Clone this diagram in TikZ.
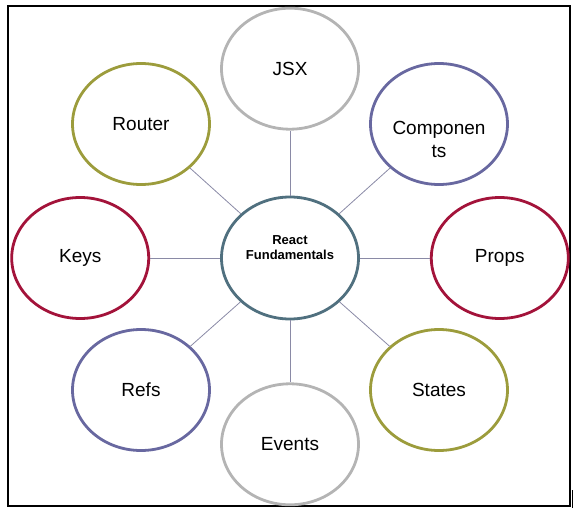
\documentclass[tikz,border=0pt]{standalone}
\usepackage{fontspec}
\setmainfont{Liberation Sans}
\usetikzlibrary{shapes.geometric, positioning}
\definecolor{mgray}{HTML}{B4B4B4}
\definecolor{mpurp}{HTML}{6868A0}
\definecolor{molive}{HTML}{9C9C3C}
\definecolor{mred}{HTML}{A3133A}
\definecolor{mslate}{HTML}{50707F}
\definecolor{mline}{HTML}{8A8AA6}
\newcommand{\shifttext}[2]{\raisebox{#1}[\height][\depth]{\begin{tabular}{@{}c@{}}#2\end{tabular}}}
\tikzstyle{topic} = [ellipse, draw, line width=2.8pt, minimum width=137pt, minimum height=121pt, inner sep=0pt, align=center, font=\fontsize{19}{23}\selectfont]
\tikzstyle{hub} = [ellipse, draw=mslate, line width=2.8pt, minimum width=137pt, minimum height=122pt, inner sep=0pt, align=center, font=\bfseries\fontsize{13}{15.5}\selectfont]
\tikzstyle{spoke} = [mline, line width=0.8pt]

\begin{document}
\begin{tikzpicture}[node distance=65pt]
  \useasboundingbox (0,0) rectangle (581pt,-514pt);
  \draw [line width=1.2pt] (8pt,-6pt) rectangle (570pt,-506pt);
  \draw [line width=0.8pt] (572pt,-490pt) -- (572pt,-508pt);
  \node (react) [hub] at (290pt,-258pt) {\shifttext{9pt}{React\\Fundamentals}};
  \node (jsx) [topic, draw=mgray, above=65pt of react] {\shifttext{-2pt}{JSX}};
  \node (events) [topic, draw=mgray, below=62pt of react] {Events};
  \node (keys) [topic, draw=mred, left=70pt of react] {Keys};
  \node (props) [topic, draw=mred, right=70pt of react] {Props};
  \node (router) [topic, draw=molive, xshift=-149pt, yshift=134pt] at (react) {\shifttext{-2pt}{Router}};
  \node (comp) [topic, draw=mpurp, xshift=149pt, yshift=134pt] at (react) {\shifttext{-17pt}{Componen\\ts}};
  \node (refs) [topic, draw=mpurp, xshift=-149pt, yshift=-132pt] at (react) {Refs};
  \node (states) [topic, draw=molive, xshift=149pt, yshift=-132pt] at (react) {States};
  \draw [spoke] (react) -- (jsx);
  \draw [spoke] (react) -- (comp);
  \draw [spoke] (react) -- (props);
  \draw [spoke] (react) -- (states);
  \draw [spoke] (react) -- (events);
  \draw [spoke] (react) -- (refs);
  \draw [spoke] (react) -- (keys);
  \draw [spoke] (react) -- (router);
\end{tikzpicture}
\end{document}
